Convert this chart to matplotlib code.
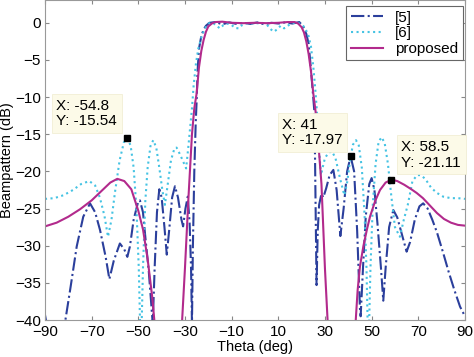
import matplotlib
matplotlib.use("Agg")
import numpy as np
import matplotlib.pyplot as plt

plt.rcParams['font.family'] = ['Liberation Sans', 'DejaVu Sans']

# ---- data (theta in deg, beampattern in dB) ----
theta_5 = [-90, -88.5, -85, -82, -81.4, -79, -76.4, -73.6, -70.7, -68.5, -66.4, -64, -62.4,
           -60.5, -57.9, -56, -54.7, -53.6, -52, -50, -49.3, -48, -47, -45.5, -44.3, -43.8,
           -43, -42, -41, -40, -38.8, -37.8, -36.8, -35.5, -34.3, -33, -31.5, -30.8, -29.8,
           -28.8, -28, -27.4, -27, -26.6, -26, -25.4, -25, -24.6, -24, -23, -22, -21, -19.5,
           -17, -14, -11, -8, -5, -2, 1, 4, 7, 10, 13, 16, 19, 20.5, 22, 23, 23.9, 24.7,
           25.4, 25.7, 26, 26.4, 26.9, 27.5, 28.5, 29.3, 30.5, 32, 33.6, 35, 36.6, 38, 39.5,
           41, 42.5, 43.8, 45, 45.3, 46.3, 47.5, 49, 50, 51.2, 52.5, 54, 55, 56, 57.5, 59.3,
           61, 63, 65, 66.5, 68.5, 70.5, 72.1, 74, 76, 78, 80.7, 83, 85.5, 87.9, 90]
db_5 = [-39.3, -42, -48, -42, -40.3, -35.5, -30.1, -26.1, -24.3, -25.5, -27.9, -31.5, -34.5,
        -32, -29.7, -30.5, -31.5, -30.1, -26.5, -24.0, -23.9, -25.5, -28.8, -33.5, -38.5, -40.5,
        -33, -25.5, -22.4, -23.5, -27.5, -31.2, -28, -23.5, -22.0, -23.5, -26.5, -27.4, -25,
        -23.4, -27, -33, -40.5, -30, -20, -13.5, -10.5, -6.5, -3.5, -1.8, -0.9, -0.4, 0,
        0.1, -0.2, 0.05, -0.15, 0, -0.15, 0.05, -0.2, 0, -0.1, 0.05, -0.1, 0.1, -0.4, -1.5,
        -2.8, -5.9, -9, -11.7, -17, -25, -35.3, -28, -24.5, -23, -23.5, -22.3, -20.5, -19.8,
        -22.5, -28.7, -25, -20, -17.97, -20, -28, -38.5, -39.5, -33, -26, -21.7, -20.9,
        -22.5, -27, -33, -37.4, -33, -27.5, -25.2, -26.2, -28.5, -30.8, -29.5, -26.5, -24.7,
        -24.3, -25, -26.5, -28.2, -31.0, -33.5, -36, -38.2, -39.5]

theta_6 = [-90, -86, -82, -78, -74.5, -71, -68.5, -66.5, -64.5, -63, -61.5, -60, -58, -56.2,
           -54.8, -53.3, -52, -50.8, -49.8, -48.9, -48, -47, -46, -44.8, -43.6, -42.3, -41,
           -39.7, -38.6, -37.5, -36, -34.5, -33.6, -32.3, -31, -29.5, -28.5, -27.6, -27,
           -26.3, -25.3, -24.3, -23, -21.5, -20, -18, -16.5, -15, -13.5, -12, -10, -8.5, -7,
           -5.5, -3, 0, 3, 5, 6.5, 8, 9.5, 11, 12.5, 14, 16, 18, 20, 21.5, 23, 24, 25, 26,
           26.7, 27.1, 27.6, 28.3, 29, 30, 31.5, 33, 34.5, 36.5, 38.3, 39.5, 41, 42, 43.3,
           44.5, 45.8, 47, 47.8, 48.6, 49.5, 50.5, 51.7, 53, 54.3, 55.6, 57, 58.5, 60, 62.1,
           63.8, 65.5, 67.5, 69.5, 71, 73, 75.5, 78, 80.7, 84, 87, 90]
db_6 = [-23.7, -23.6, -23.2, -22.5, -21.7, -21.3, -21.9, -23.5, -26, -28.8, -26.5, -22.8,
        -18.5, -16.1, -15.54, -16.5, -19.5, -25, -33, -45, -33, -24, -19.5, -16.6, -15.8,
        -16.8, -19.5, -22.5, -24.5, -22, -18.5, -16.9, -16.8, -17.6, -18.5, -19.6, -16.5,
        -13.5, -11.5, -8.5, -5.5, -3.5, -2, -0.8, -0.1, 0, -0.4, -0.75, -0.3, -0.1, -0.3,
        -0.7, -0.75, -0.3, 0, -0.1, 0, -0.2, -0.8, -1.2, -0.9, -0.4, -0.75, -0.4, -0.05, 0,
        -0.2, -0.7, -1.8, -3.2, -5.9, -9.5, -12.6, -13.5, -17.5, -20.5, -19.5, -18.2, -17.5,
        -17.3, -18.2, -21, -23.2, -21.5, -18, -16.4, -15.8, -16.5, -19.5, -26, -33, -45,
        -33, -24.5, -19, -16, -15.4, -16.2, -19, -23.5, -27.5, -28.8, -26.5, -24.5, -21.3,
        -20.5, -20.5, -21, -22.2, -22.9, -23.4, -23.6, -23.6, -23.7]

theta_p = [-90, -85, -80, -75, -70, -65, -62, -59, -56, -53, -50, -48, -46, -44, -43,
           -31.3, -30, -28.5, -27, -26, -25, -24, -23, -22, -21, -20, -18.5, -17, -14, -10,
           -5, 0, 5, 10, 14, 17, 18.5, 20, 21, 22, 23, 24, 25, 26, 27, 28.5, 30, 31.2,
           43.1, 44, 45, 46.5, 48, 49.3, 51.5, 53.6, 56, 58.5, 61, 64, 67, 69.3, 72, 75, 78,
           81, 84, 87, 90]
db_p = [-27.4, -26.9, -26.1, -25.1, -23.9, -22.4, -21.5, -21.0, -21.3, -22.4, -25.3, -27.8,
        -31.8, -37.0, -40.5, -40.5, -33, -23.5, -15, -11.5, -9.5, -6, -3.8, -2.3, -1.2,
        -0.5, -0.1, 0.1, 0.15, 0, -0.05, 0, -0.05, 0, 0.1, 0.1, -0.1, -0.6, -1.3, -2.5,
        -4.2, -6.5, -9.5, -12, -15.5, -21.7, -33.1, -40.5, -40.5, -36, -32.8, -30.0,
        -27.8, -26.1, -24, -22.5, -21.5, -21.11, -21.3, -21.8, -22.4, -22.9, -23.6, -24.6,
        -25.6, -26.4, -26.9, -27.2, -27.3]

tips_x = [-54.8, 41, 58.5]
tips_y = [-15.54, -17.97, -21.11]
tips_offset = [(-10, 10, 'right'), (-8, 9, 'right'), (10, 10, 'left')]

# ---- figure ----
fig = plt.figure(figsize=(4.74, 3.57), dpi=100)
ax = fig.add_axes([0.0949, 0.1036, 0.886, 0.895])

ax.plot(theta_5, db_5, color='#2b3f9c', lw=1.5, ls='-.', label='[5]')
ax.plot(theta_6, db_6, color='#45c3e3', lw=1.5, ls=':', label='[6]')
ax.plot(theta_p, db_p, color='#b22a8c', lw=1.5, ls='-', label='proposed')

# data tips
ax.plot(tips_x, tips_y, 's', color='black', ms=5, zorder=5)
for x, y, (dx, dy, ha) in zip(tips_x, tips_y, tips_offset):
    ax.annotate(f'X: {x:g}\nY: {y:.2f}', xy=(x, y), xytext=(dx, dy),
                textcoords='offset pixels', ha=ha, va='bottom', fontsize=11,
                linespacing=1.15, multialignment='left',
                bbox=dict(boxstyle='square,pad=0.3', fc='#fcfae8', ec='#efeccf', lw=0.5),
                zorder=6)

ax.set_xlim(-90, 90)
ax.set_ylim(-40, 3)
ax.set_xticks(np.arange(-90, 91, 20))
ax.set_yticks(np.arange(-40, 1, 5))
ax.tick_params(direction='in', length=3, top=True, right=True, labelsize=11,
               color='#888888')
ax.tick_params(axis='y', pad=3)
for s in ax.spines.values():
    s.set_color('#999999')
    s.set_linewidth(0.8)

ax.set_xlabel('Theta (deg)', fontsize=10.5, labelpad=1)
ax.set_ylabel('Beampattern (dB)', fontsize=10.5)
ax.yaxis.set_label_coords(-0.074, 0.5)

leg = ax.legend(loc='upper right', bbox_to_anchor=(0.995, 0.982), borderaxespad=0,
                fontsize=11, handlelength=2.1, labelspacing=0.1, borderpad=0.3,
                fancybox=False, framealpha=1, edgecolor='#666666')
leg.get_frame().set_linewidth(0.8)

fig.savefig('out.png', dpi=100)
